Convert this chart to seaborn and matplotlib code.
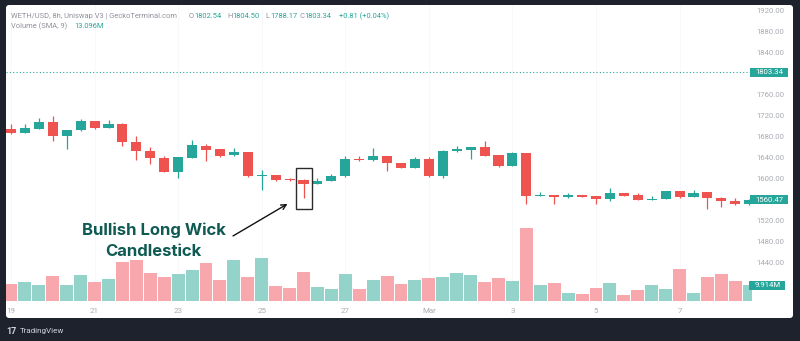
import numpy as np
import pandas as pd
import matplotlib
matplotlib.use("Agg")
import matplotlib.pyplot as plt
import seaborn as sns
from matplotlib.patches import Rectangle, FancyBboxPatch
from matplotlib.transforms import blended_transform_factory

# ---------------- data (WETH/USD, 8h candles, Feb 19 - Mar 8) ----------------
opens = [1695.2, 1687.6, 1695.8, 1708.5, 1681.3, 1692.7, 1709.9, 1697.1, 1704.2, 1670.4,
         1653.9, 1640.0, 1613.3, 1640.5, 1663.4, 1656.5, 1645.1, 1650.8, 1605.1, 1607.0,
         1600.0, 1598.6, 1590.4, 1596.8, 1605.7, 1638.1, 1635.6, 1643.2, 1629.9, 1621.5,
         1637.5, 1605.7, 1653.3, 1655.8, 1660.9, 1645.1, 1624.7, 1648.9, 1567.6, 1569.5,
         1565.1, 1568.9, 1567.6, 1562.4, 1572.7, 1569.5, 1559.4, 1561.9, 1577.1, 1565.7,
         1574.6, 1564.3, 1558.0, 1551.8]
highs = [1704.8, 1704.2, 1716.7, 1720.0, 1693.8, 1713.7, 1710.5, 1711.8, 1707.2, 1681.3,
         1660.9, 1643.8, 1642.0, 1673.7, 1667.2, 1657.0, 1659.6, 1651.5, 1617.1, 1608.0,
         1602.4, 1599.2, 1602.4, 1608.9, 1644.3, 1644.3, 1659.6, 1644.0, 1631.0, 1641.3,
         1641.3, 1654.6, 1663.4, 1661.5, 1672.3, 1645.8, 1651.4, 1649.5, 1574.6, 1570.0,
         1572.7, 1569.4, 1568.1, 1583.4, 1573.3, 1572.7, 1568.2, 1577.7, 1577.6, 1579.0,
         1575.1, 1564.8, 1563.2, 1561.5]
lows = [1686.3, 1687.0, 1695.2, 1672.9, 1656.5, 1692.0, 1694.6, 1696.5, 1662.8, 1636.7,
        1628.5, 1612.5, 1601.9, 1640.0, 1634.8, 1642.4, 1644.5, 1604.5, 1579.0, 1597.0,
        1597.0, 1564.3, 1589.8, 1596.3, 1603.8, 1635.0, 1635.0, 1614.6, 1620.8, 1620.3,
        1603.2, 1601.9, 1650.8, 1637.5, 1643.2, 1622.8, 1624.2, 1552.3, 1567.0, 1552.3,
        1564.6, 1565.6, 1552.3, 1558.0, 1567.5, 1559.4, 1559.0, 1561.4, 1564.3, 1565.2,
        1542.2, 1547.2, 1551.3, 1551.3]
closes = [1687.6, 1696.5, 1708.5, 1681.3, 1693.3, 1710.5, 1697.1, 1704.2, 1669.9, 1653.3,
          1639.4, 1613.3, 1641.3, 1664.2, 1655.8, 1644.3, 1650.8, 1605.1, 1606.3, 1598.0,
          1597.8, 1590.4, 1596.8, 1606.3, 1638.1, 1635.6, 1643.2, 1629.9, 1621.5, 1637.5,
          1605.7, 1653.9, 1656.5, 1660.9, 1643.8, 1624.7, 1648.9, 1567.6, 1570.1, 1565.1,
          1568.9, 1566.2, 1562.4, 1572.7, 1568.2, 1560.0, 1561.9, 1577.1, 1565.7, 1573.9,
          1563.2, 1557.5, 1551.8, 1560.47]
volumes_m = [10.5, 12.0, 10.3, 15.5, 9.9, 16.1, 12.0, 13.8, 24.6, 25.8,
             17.7, 15.3, 16.7, 19.6, 23.6, 13.2, 25.4, 15.1, 26.7, 9.7,
             8.2, 18.2, 8.9, 7.6, 16.7, 7.4, 13.4, 15.9, 10.9, 13.2,
             14.6, 15.1, 17.4, 16.5, 12.0, 14.6, 12.4, 45.4, 10.3, 11.2,
             5.0, 4.5, 8.1, 11.2, 4.1, 6.8, 9.9, 7.6, 19.8, 5.0,
             15.3, 16.9, 12.4, 9.914]
date_tick_idx = [0, 6, 12, 18, 24, 30, 36, 42, 48]
date_labels = ["19", "21", "23", "25", "27", "Mar", "3", "5", "7"]
price_ticks = [1440, 1480, 1520, 1560, 1600, 1640, 1680, 1720, 1760, 1800, 1840, 1880, 1920]
price_tick_labels = ["1440.00", "1480.00", "1520.00", "1560.47", "1600.00", "1640.00", "1680.00",
                     "1720.00", "1760.00", "1803.34", "1840.00", "1880.00", "1920.00"]
current_price = 1803.34
last_close = 1560.47
last_volume = 9.914
highlight_idx = 21

header_title = "WETH/USD, 8h, Uniswap V3 | GeckoTerminal.com"
header_ohlc = [("O", "1802.54"), ("H", "1804.50"), ("L", "1788.17"), ("C", "1803.34")]
header_change = "+0.81 (+0.04%)"
volume_title = "Volume (SMA, 9)"
volume_sma = "13.096M"

# ---------------- style ----------------
sns.set_style("white")
plt.rcParams['font.family'] = ['Roboto', 'DejaVu Sans']

UP = '#26a69a'
DOWN = '#ef5350'
UP_VOL = '#93d3c9'
DOWN_VOL = '#f8a8ac'
TXT = '#a9acb4'
BG = '#1e222d'

W, H = 800, 341
fig = plt.figure(figsize=(W / 100, H / 100), dpi=100, facecolor=BG)


def fx(px):
    return px / W


def fy(py):
    return 1 - py / H


panel = FancyBboxPatch((0.06, 0.23), 7.87, 3.13,
                       boxstyle='round,pad=0,rounding_size=0.03',
                       transform=fig.dpi_scale_trans, facecolor='white',
                       edgecolor='none', zorder=0)
fig.add_artist(panel)

n = len(opens)
direction = ['up' if c >= o else 'down' for o, c in zip(opens, closes)]
df = pd.DataFrame({'idx': np.arange(n), 'vol': volumes_m, 'dir': direction})

# volume pane
ax = fig.add_axes([fx(6), fy(302), fx(752) - fx(6), fy(5) - fy(302)])
ax.set_facecolor('none')
sns.barplot(data=df, x='idx', y='vol', hue='dir', palette={'up': UP_VOL, 'down': DOWN_VOL},
            dodge=False, width=0.93, saturation=1, legend=False, errorbar=None,
            linewidth=0, ax=ax, zorder=2)
ax.set_xlim(-0.36, 53.2)
ax.set_ylim(-0.43, 183.7)
ax.set_xticks(date_tick_idx)
ax.set_xticklabels(date_labels)
ax.tick_params(axis='x', length=0, pad=4, labelsize=5.8, labelcolor=TXT)
ax.set_yticks([])
ax.set_xlabel('')
ax.set_ylabel('')
ax.grid(axis='x', color='#f6f7f8', lw=0.6, zorder=0)
ax.set_axisbelow(True)
for s in ax.spines.values():
    s.set_visible(False)

# price pane
ax2 = ax.twinx()
ax2.set_ylim(1365.6, 1931.4)
ax2.set_yticks(price_ticks)
ax2.set_yticklabels(price_tick_labels)
ax2.tick_params(axis='y', length=0, pad=3.5, labelsize=5.6, labelcolor=TXT)
for s in ax2.spines.values():
    s.set_visible(False)

x = np.arange(n)
o = np.array(opens)
c = np.array(closes)
colors = [UP if d == 'up' else DOWN for d in direction]
ax2.vlines(x, lows, highs, colors=colors, lw=0.9, zorder=3)
ax2.bar(x, np.maximum(np.abs(c - o), 1.9), bottom=np.minimum(o, c), width=0.72,
        color=colors, linewidth=0, zorder=4)

ax2.axhline(current_price, color=UP, ls=(0, (1, 2)), lw=0.8, zorder=2)

# hide tick labels that are replaced by tags
for lab in ax2.get_yticklabels():
    if lab.get_text() in ("1560.47", "1803.34"):
        lab.set_visible(False)


def tag(axis, y, text, h, x0=750, x1=788):
    tr = blended_transform_factory(fig.transFigure, axis.transData)
    axis.add_patch(Rectangle((fx(x0), y - h / 2), fx(x1) - fx(x0), h, transform=tr,
                             facecolor=UP, edgecolor='none', clip_on=False, zorder=10))
    axis.text(fx(x0 + 5.5), y, text, transform=tr, color='white', fontsize=5.6,
              va='center', ha='left', clip_on=False, zorder=11)


tag(ax2, current_price, f"{current_price:.2f}", 17.1)
tag(ax2, last_close, f"{last_close:.2f}", 17.1)
tag(ax, last_volume, f"{last_volume:.3f}M", 5.6, 749, 785)

# highlight box and arrow
ax2.add_patch(Rectangle((highlight_idx - 0.53, 1542.8), 1.13, 78.1, fill=False,
                        edgecolor='#2b2b2b', lw=1.0, zorder=6))
ax2.annotate('', xy=(19.85, 1552.5), xytext=(15.94, 1491.4),
             arrowprops=dict(arrowstyle='->', color='#111111', lw=1.0,
                             shrinkA=0, shrinkB=0, mutation_scale=9),
             annotation_clip=False, zorder=7)
ann_kw = dict(ha='center', va='center', fontsize=12, fontweight='bold', color='#0f5a53',
              family=['Inter', 'DejaVu Sans'])
fig.text(fx(153.5), fy(230), "Bullish Long Wick", **ann_kw)
fig.text(fx(153.5), fy(251), "Candlestick", **ann_kw)

# header
HDR = '#8f929b'
hk = dict(fontsize=5.45, va='center', ha='left')
fig.text(fx(11), fy(15.7), header_title, color=HDR, **hk)
hx = [(189, 194.3), (227.7, 232.3), (265.7, 270), (300, 304.7)]
for (letter, val), (lx, vx) in zip(header_ohlc, hx):
    fig.text(fx(lx), fy(15.7), letter, color=HDR, **hk)
    fig.text(fx(vx), fy(15.7), val, color=UP, **hk)
fig.text(fx(339), fy(15.7), header_change, color=UP, **hk)
fig.text(fx(11), fy(26), volume_title, color=HDR, **hk)
fig.text(fx(74), fy(26), volume_sma, color=UP, **hk)

# footer logo
fig.text(fx(6), fy(331), "17", color='#d1d4dc', fontsize=6.5, fontweight='bold', va='center', ha='left')
fig.text(fx(20), fy(331), "TradingView", color='#d1d4dc', fontsize=5.8, va='center', ha='left')

fig.savefig("out.png", dpi=100, facecolor=BG)
